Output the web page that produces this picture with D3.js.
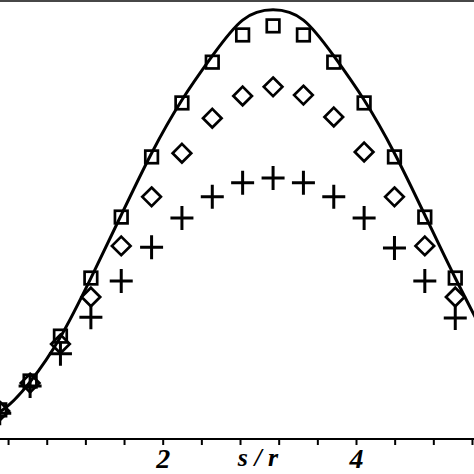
<!DOCTYPE html>
<html>
<head>
<meta charset="utf-8">
<script src="https://cdn.jsdelivr.net/npm/d3@7"></script>
<style>
  html, body { margin: 0; padding: 0; background: #fff; }
  svg { display: block; }
  .axis path, .axis line { stroke: #000; stroke-width: 2; }
  .axis text {
    font-family: "Liberation Serif", "DejaVu Serif", serif;
    font-weight: bold;
    font-style: italic;
    font-size: 28px;
    fill: #000;
  }
  .label {
    font-family: "Liberation Serif", "DejaVu Serif", serif;
    font-weight: bold;
    font-style: italic;
    font-size: 26px;
  }
</style>
</head>
<body>
<svg id="chart" width="474" height="474"></svg>
<script>
// s/r positions of the measured points (every pi/10)
const sPoints = [0.314, 0.628, 0.942, 1.257, 1.571, 1.885, 2.199, 2.513, 2.827,
  3.142, 3.456, 3.770, 4.084, 4.398, 4.712, 5.027];

// three data series (arbitrary units, peak of curve = 1)
const squares = [0.027, 0.097, 0.206, 0.347, 0.495, 0.641, 0.772, 0.871, 0.937,
  0.959, 0.937, 0.871, 0.772, 0.641, 0.495, 0.347];
const diamonds = [0.024, 0.092, 0.187, 0.301, 0.425, 0.544, 0.650, 0.735, 0.789,
  0.811, 0.791, 0.738, 0.653, 0.544, 0.425, 0.301];
const crosses = [0.019, 0.085, 0.163, 0.252, 0.340, 0.422, 0.493, 0.544, 0.578,
  0.590, 0.578, 0.544, 0.493, 0.420, 0.340, 0.250];

// the solid curve
const curveS = [0, 0.314, 0.628, 0.942, 1.257, 1.571, 1.885, 2.199, 2.513, 2.827,
  3.142, 3.456, 3.770, 4.084, 4.398, 4.712, 5.027, 5.341];
const curveV = [0, 0.022, 0.095, 0.204, 0.347, 0.500, 0.650, 0.779, 0.886, 0.973,
  0.998, 0.973, 0.886, 0.779, 0.650, 0.500, 0.347, 0.204];

const xTicks = [0.4, 0.8, 1.2, 1.6, 2, 2.4, 2.8, 3.2, 3.6, 4, 4.4, 4.8, 5.2];
const xLabels = [2, 4];

const WIDTH = 474, HEIGHT = 474;
const AXIS_Y = 439;

const svg = d3.select('#chart');

const x = d3.scaleLinear().domain([2, 4]).range([162.7, 356]);
const y = d3.scaleLinear().domain([0, 1]).range([421, 9]);

// top frame edge
svg.append('rect')
  .attr('x', 0).attr('y', 0)
  .attr('width', WIDTH).attr('height', 2)
  .attr('fill', '#474747');

// x axis
const axis = d3.axisBottom(x)
  .tickValues(xTicks)
  .tickSize(6)
  .tickPadding(3)
  .tickFormat(d => xLabels.some(v => Math.abs(v - d) < 1e-6) ? d3.format('d')(d) : '');

svg.append('g')
  .attr('class', 'axis')
  .attr('transform', `translate(0, ${AXIS_Y})`)
  .call(axis)
  .call(g => g.select('.domain').attr('d', `M0,0H${WIDTH}`));

svg.append('text')
  .attr('class', 'label')
  .attr('x', 258)
  .attr('y', 466)
  .attr('text-anchor', 'middle')
  .text('s / r');

// solid curve
const line = d3.line()
  .x((d, i) => x(curveS[i]))
  .y(d => y(d))
  .curve(d3.curveNatural);

svg.append('path')
  .datum(curveV)
  .attr('fill', 'none')
  .attr('stroke', '#000')
  .attr('stroke-width', 3)
  .attr('d', line);

// squares
svg.selectAll('.sq')
  .data(squares)
  .enter()
  .append('rect')
  .attr('class', 'sq')
  .attr('x', (d, i) => x(sPoints[i]) - 6.3)
  .attr('y', d => y(d) - 6.3)
  .attr('width', 12.6)
  .attr('height', 12.6)
  .attr('fill', 'none')
  .attr('stroke', '#000')
  .attr('stroke-width', 2.7);

// diamonds
svg.selectAll('.dm')
  .data(diamonds)
  .enter()
  .append('path')
  .attr('class', 'dm')
  .attr('transform', (d, i) => `translate(${x(sPoints[i])}, ${y(d)})`)
  .attr('d', 'M0,-9.3L9.3,0L0,9.3L-9.3,0Z')
  .attr('fill', 'none')
  .attr('stroke', '#000')
  .attr('stroke-width', 2.7);

// crosses
svg.selectAll('.cr')
  .data(crosses)
  .enter()
  .append('path')
  .attr('class', 'cr')
  .attr('transform', (d, i) => `translate(${x(sPoints[i])}, ${y(d)})`)
  .attr('d', 'M-11.5,0H11.5M0,-12V12')
  .attr('fill', 'none')
  .attr('stroke', '#000')
  .attr('stroke-width', 3);
</script>
</body>
</html>
